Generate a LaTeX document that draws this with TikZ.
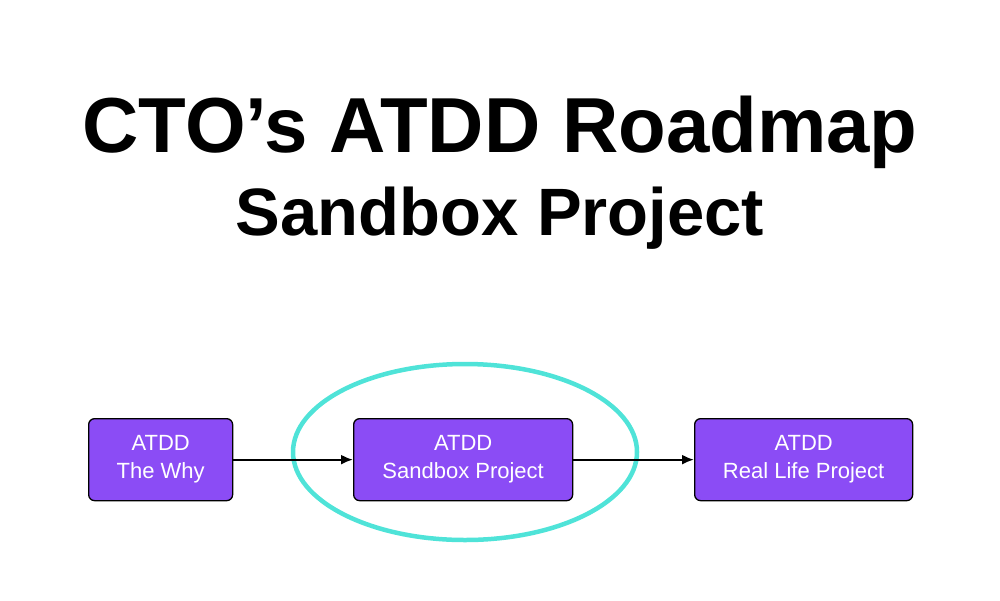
\documentclass[tikz,border=0pt]{standalone}
\usepackage{fontspec}
\setmainfont{Liberation Sans}
\usetikzlibrary{arrows.meta}
\begin{document}
\begin{tikzpicture}[x=1pt,y=-1pt,
  stepbox/.style={draw=black,line width=1.3pt,fill=stepfill,rounded corners=6pt,text=white,font=\fontsize{22}{28}\selectfont,align=center,anchor=north west,inner sep=0pt},
  conn/.style={-{Latex[length=12pt,width=10pt]},line width=2pt}]
\definecolor{stepfill}{HTML}{8B4CF5}
\definecolor{ring}{HTML}{4FE3D8}
\useasboundingbox (0,0) rectangle (1000,600);
\node[font=\bfseries\fontsize{78}{88}\selectfont] (t1) at (500,132) {CTO’s ATDD Roadmap};
\node[font=\bfseries\fontsize{67}{75}\selectfont] (t2) at (500,218) {Sandbox Project};
\node[stepbox,minimum width=144pt,minimum height=82pt,text depth=6pt] (b1) at (88,418) {ATDD\\The Why};
\node[stepbox,minimum width=219pt,minimum height=82pt,text depth=6pt] (b2) at (353,418) {ATDD\\Sandbox Project};
\node[stepbox,minimum width=218pt,minimum height=82pt,text depth=6pt] (b3) at (694,418) {ATDD\\Real Life Project};
\draw[ring,line width=4.5pt] (465,452) ellipse [x radius=172, y radius=88];
\draw[conn] (b1) -- (b2);
\draw[conn] (b2) -- (b3);
\end{tikzpicture}
\end{document}
